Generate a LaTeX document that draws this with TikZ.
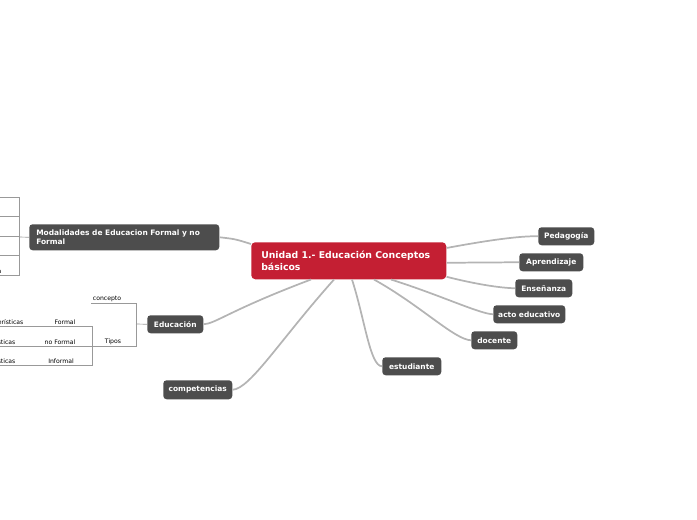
\documentclass[tikz,border=0pt]{standalone}
\usepackage{fontspec}
\setmainfont{DejaVu Sans}
\usetikzlibrary{calc}
\definecolor{cred}{HTML}{C41F33}
\definecolor{cdark}{HTML}{4D4D4D}
\definecolor{cline}{HTML}{B4B4B4}
\begin{document}
\begin{tikzpicture}[x=0.75pt,y=-0.75pt,
 topic/.style={fill=cdark,rounded corners=2.5pt,text=white,font=\bfseries\fontsize{5.6}{7}\selectfont,anchor=north west,inner sep=0pt,align=left},
 conn/.style={draw=cline,line width=1.3pt},
 thin/.style={draw=gray!80,line width=0.5pt},
 lbl/.style={font=\fontsize{4.6}{5}\selectfont,inner sep=1pt,anchor=south}]
\useasboundingbox (0,0) rectangle (697,520);
% central
\node[fill=cred,rounded corners=3pt,anchor=north west,minimum width=195*0.75pt,minimum height=37*0.75pt,inner sep=0pt] (c) at (251,242) {};
\node[text=white,font=\bfseries\fontsize{7}{9}\selectfont,align=left,anchor=west,inner sep=0pt] (ct) at (261,261) {Unidad 1.- Educación Conceptos\\básicos};
% topics
\node[topic,minimum width=190*0.75pt,minimum height=26*0.75pt] (mod) at (29,224) {};
\node[font=\bfseries\fontsize{5.6}{7}\selectfont,text=white,align=left,anchor=west,inner sep=0pt] (modt) at (36,237) {Modalidades de Educacion Formal y no\\Formal};
\node[topic,minimum width=56*0.75pt,minimum height=18*0.75pt,align=center] (edu) at (147,315) {Educación};
\node[topic,minimum width=69*0.75pt,minimum height=19*0.75pt,align=center] (comp) at (163,380) {competencias};
\node[topic,minimum width=59*0.75pt,minimum height=18*0.75pt,align=center] (est) at (382,357) {estudiante};
\node[topic,minimum width=46*0.75pt,minimum height=18*0.75pt,align=center] (doc) at (471,331) {docente};
\node[topic,minimum width=72*0.75pt,minimum height=18*0.75pt,align=center] (acto) at (493,305) {acto educativo};
\node[topic,minimum width=57*0.75pt,minimum height=18*0.75pt,align=center] (ens) at (515,279) {Enseñanza};
\node[topic,minimum width=64*0.75pt,minimum height=18*0.75pt,align=center] (apr) at (519,253) {Aprendizaje};
\node[topic,minimum width=56*0.75pt,minimum height=18*0.75pt,align=center] (ped) at (538,227) {Pedagogía};
% connectors
\draw[conn] ($(c.north west)+(0,2)$) .. controls (235,239) .. (mod.east);
\draw[conn] ($(c.south west)+(60,0)$) .. controls (230,310) and (215,324) .. (edu.east);
\draw[conn] ($(c.south west)+(83,0)$) .. controls (280,340) and (250,389) .. (comp.east);
\draw[conn] ($(c.south west)+(101,0)$) .. controls (365,320) and (370,366) .. (est.west);
\draw[conn] ($(c.south west)+(123,0)$) .. controls (420,305) and (455,340) .. (doc.west);
\draw[conn] ($(c.south west)+(140,0)$) .. controls (440,295) and (480,314) .. (acto.west);
\draw[conn] ($(c.east)+(0,16)$) .. controls (475,284) and (500,288) .. (ens.west);
\draw[conn] ($(c.east)+(0,2)$) -- (apr.west);
\draw[conn] ($(c.north east)+(0,6)$) .. controls (500,238) and (525,236) .. (ped.west);
% modalidades sub-branches
\coordinate (m0) at (19,237);
\draw[thin] (mod.west) -- (m0);
\draw[thin] (0,197) -- (19,197) -- (19,275) -- (0,275);
\draw[thin] (0,216) -- (19,216);
\draw[thin] (0,236) -- (19,236);
\draw[thin] (0,255) -- (19,255);
\node[lbl,anchor=south west] (ma) at (-3,197) {l};
\node[lbl,anchor=south west] (mb) at (-4,275) {a};
% educacion sub-branches
\coordinate (e0) at (136,324);
\draw[thin] (edu.west) -- (e0);
\draw[thin] (91,303) -- (136,303) -- (136,346) -- (91,346);
\node[lbl] (con) at (107,303) {concepto};
\node[lbl] (tip) at (113,346) {Tipos};
\draw[thin] (0,326) -- (92,326) -- (92,365) -- (0,365);
\draw[thin] (0,346) -- (92,346);
\node[lbl] (f1) at (65,326) {Formal};
\node[lbl] (f2) at (60,346) {no Formal};
\node[lbl] (f3) at (61,365) {Informal};
\node[lbl,anchor=south east] (c1) at (25,326) {Características};
\node[lbl,anchor=south east] (c2) at (17,346) {Características};
\node[lbl,anchor=south east] (c3) at (17,365) {Características};
\end{tikzpicture}
\end{document}
